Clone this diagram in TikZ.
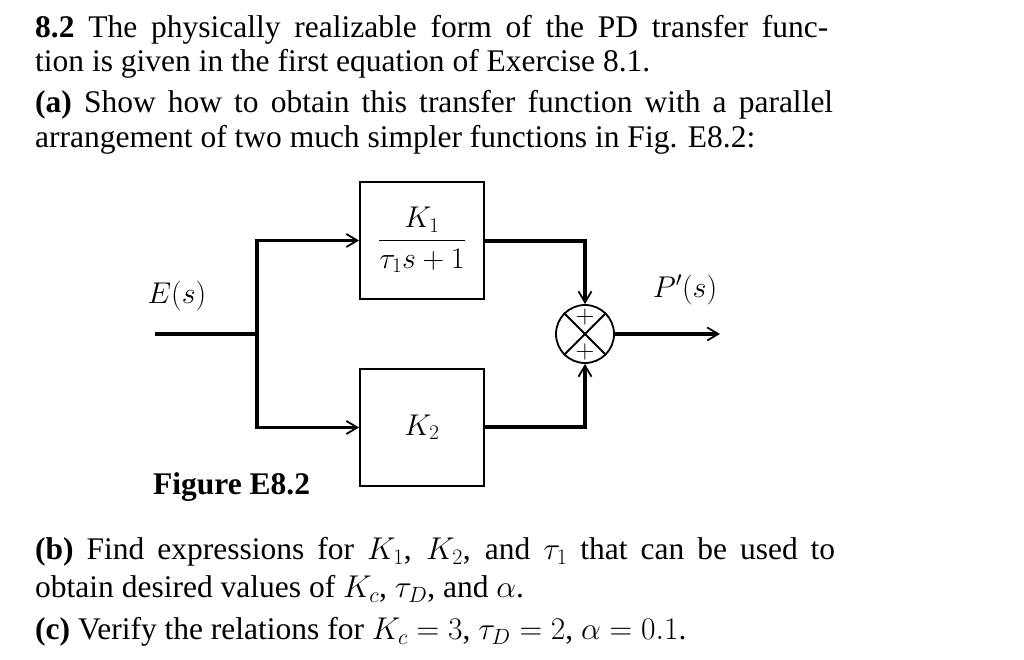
\RequirePackage{fix-cm}
\documentclass[tikz,border=0pt]{standalone}
\usepackage{fontspec}
\setmainfont{Liberation Serif}
\usetikzlibrary{arrows.meta}
\begin{document}
\begin{tikzpicture}[x=1pt,y=-1pt,
  txt/.style={anchor=west,inner sep=0pt,font=\fontsize{31.5}{34}\selectfont},
  blk/.style={draw,line width=1.8pt,inner sep=0pt},
  wire/.style={line width=3.5pt},
  arr/.style={wire,-{Straight Barb[length=11pt,width=13pt,line width=1.8pt]}},
  dl/.style={inner sep=0pt,font=\fontsize{30}{32}\selectfont}]
\useasboundingbox (0,0) rectangle (1024,660);
\node[txt] (l1) at (35,30) {\makebox[793pt][s]{\textbf{8.2} The physically realizable form of the PD transfer func-}};
\node[txt] (l2) at (35,64) {tion is given in the first equation of Exercise 8.1.};
\node[txt] (l3) at (35,105) {\makebox[798pt][s]{\textbf{(a)} Show how to obtain this transfer function with a parallel}};
\node[txt] (l4) at (35,140) {arrangement of two much simpler functions in Fig. E8.2:};
\node[txt] (fig) at (153,487) {\textbf{Figure E8.2}};
\node[txt] (l5) at (35,552) {\makebox[800pt][s]{\textbf{(b)} Find expressions for $K_1$, $K_2$, and $\tau_1$ that can be used to}};
\node[txt] (l6) at (35,589) {obtain desired values of $K_c$, $\tau_D$, and $\alpha$.};
\node[txt] (l7) at (35,632) {\textbf{(c)} Verify the relations for $K_c=3$, $\tau_D=2$, $\alpha=0.1$.};
% diagram
\node[blk,minimum width=124pt,minimum height=117pt] (b1) at (422,240.5) {};
\node[dl] (f1) at (422,240) {$\displaystyle\frac{K_1}{\tau_1 s+1}$};
\node[blk,minimum width=124pt,minimum height=117pt] (b2) at (422,427.5) {};
\node[dl] (f2) at (422,427) {$K_2$};
\node[draw,circle,line width=1.8pt,minimum size=58pt,inner sep=0pt] (sum) at (585,334) {};
\draw[line width=1.8pt] (sum.north west) -- (sum.south east) (sum.north east) -- (sum.south west);
\node[font=\fontsize{26}{26}\selectfont,inner sep=0pt] (p1) at (585,317) {$+$};
\node[font=\fontsize{26}{26}\selectfont,inner sep=0pt] (p2) at (585,352) {$+$};
\coordinate (in) at (155,334);
\coordinate (br) at (257,334);
\coordinate (out) at (720,334);
\draw[wire] (in) -- (br);
\draw[arr] (br) |- (b1.west);
\draw[arr] (br) |- (b2.west);
\draw[arr] (b1.east |- 0,241) -| (sum.north);
\draw[arr] (b2.east |- 0,427) -| (sum.south);
\draw[arr] (sum.east) -- (out);
\node[dl] (el) at (177,296) {$E(s)$};
\node[dl] (pl) at (685,290) {$P'(s)$};
\end{tikzpicture}
\end{document}
